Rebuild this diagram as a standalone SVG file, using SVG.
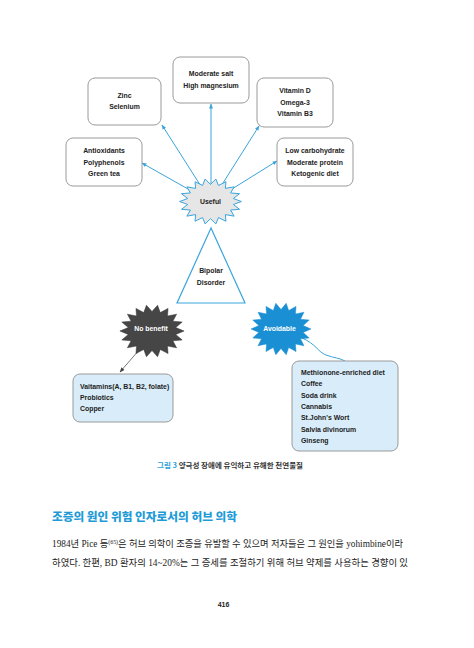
<svg xmlns="http://www.w3.org/2000/svg" width="474" height="648" viewBox="0 0 474 648">
<style>
.box{fill:#fff;stroke:#9a9a9a;stroke-width:1}
.lbox{fill:#d8edf9;stroke:#9a9a9a;stroke-width:1}
.t{font-family:"Liberation Sans",Arial,sans-serif;font-weight:bold;font-size:6.9px;fill:#222;text-anchor:middle}
.tl{font-family:"Liberation Sans",Arial,sans-serif;font-weight:bold;font-size:6.9px;fill:#222}
.con{stroke:#3aa5dc;stroke-width:1;fill:none}
.kr{font-family:"Noto Sans CJK KR",sans-serif}
</style>
<defs>
<marker id="ab" viewBox="0 0 10 10" refX="9" refY="5" markerWidth="5" markerHeight="5" orient="auto" markerUnits="userSpaceOnUse">
<path d="M0,1 L10,5 L0,9 z" fill="#3aa5dc"/>
</marker>
<marker id="ad" viewBox="0 0 10 10" refX="9" refY="5" markerWidth="5" markerHeight="5" orient="auto" markerUnits="userSpaceOnUse">
<path d="M0,1 L10,5 L0,9 z" fill="#444"/>
</marker>
<polygon id="star" vector-effect="non-scaling-stroke" points="30,0 22.16,3.91 28.19,10.26 19.49,11.25 22.98,19.28 14.46,17.24 15,25.98 7.7,21.14 5.21,29.54 0,22.5 -5.21,29.54 -7.7,21.14 -15,25.98 -14.46,17.24 -22.98,19.28 -19.49,11.25 -28.19,10.26 -22.16,3.91 -30,0 -22.16,-3.91 -28.19,-10.26 -19.49,-11.25 -22.98,-19.28 -14.46,-17.24 -15,-25.98 -7.7,-21.14 -5.21,-29.54 0,-22.5 5.21,-29.54 7.7,-21.14 15,-25.98 14.46,-17.24 22.98,-19.28 19.49,-11.25 28.19,-10.26 22.16,-3.91"/>
</defs>
<rect width="474" height="648" fill="#fff"/>

<g id="connectors">
<line class="con" x1="211" y1="202" x2="162" y2="125" marker-end="url(#ab)"/>
<line class="con" x1="211" y1="202" x2="211" y2="104" marker-end="url(#ab)"/>
<line class="con" x1="211" y1="202" x2="259" y2="126" marker-end="url(#ab)"/>
<line class="con" x1="211" y1="202" x2="142" y2="163" marker-end="url(#ab)"/>
<line class="con" x1="211" y1="202" x2="277" y2="161" marker-end="url(#ab)"/>
<line x1="140" y1="349" x2="120" y2="372" stroke="#555" stroke-width="0.8" marker-end="url(#ad)"/>
<path class="con" d="M302,338 C316,344 318,352 326,355 C334,358 340,358 345,361"/>
</g>

<g id="zinc">
<rect class="box" x="88" y="78" width="73" height="47" rx="7"/>
<text class="t" x="124.5" y="98">Zinc</text>
<text class="t" x="124.5" y="109">Selenium</text>
</g>
<g id="salt">
<rect class="box" x="173" y="57" width="76" height="46" rx="7"/>
<text class="t" x="211" y="76">Moderate salt</text>
<text class="t" x="211" y="88">High magnesium</text>
</g>
<g id="vitamin">
<rect class="box" x="257" y="78" width="76" height="49" rx="7"/>
<text class="t" x="295" y="93">Vitamin D</text>
<text class="t" x="295" y="104.5">Omega-3</text>
<text class="t" x="295" y="116">Vitamin B3</text>
</g>
<g id="antiox">
<rect class="box" x="66" y="138" width="76" height="48" rx="7"/>
<text class="t" x="104" y="153">Antioxidants</text>
<text class="t" x="104" y="164.5">Polyphenols</text>
<text class="t" x="104" y="176">Green tea</text>
</g>
<g id="lowcarb">
<rect class="box" x="277" y="138" width="76" height="48" rx="7"/>
<text class="t" x="315" y="153">Low carbohydrate</text>
<text class="t" x="315" y="164.5">Moderate protein</text>
<text class="t" x="315" y="176">Ketogenic diet</text>
</g>

<g id="useful">
<use href="#star" transform="translate(210.5,201.5) scale(1.03,0.76)" fill="#e6e6e6" stroke="#3aa5dc" stroke-width="1"/>
<text class="t" x="210.5" y="204">Useful</text>
</g>

<g id="bipolar">
<polygon points="211,228 177,303 245,303" fill="#fff" stroke="#3aa5dc" stroke-width="1.2"/>
<text class="t" x="211" y="273">Bipolar</text>
<text class="t" x="211" y="285">Disorder</text>
</g>

<g id="nobenefit">
<use href="#star" transform="translate(152,331) scale(1.07,0.87)" fill="#464646" stroke="#333" stroke-width="0.5"/>
<text class="t" x="151" y="331" style="fill:#fff">No benefit</text>
</g>

<g id="avoidable">
<use href="#star" transform="translate(281,329) scale(1.0,0.87)" fill="#1a8fd4" stroke="#1a8fd4" stroke-width="0.5"/>
<text class="t" x="279.5" y="330.5" style="fill:#fff">Avoidable</text>
</g>

<g id="nobenefit-list">
<rect class="lbox" x="73" y="374" width="100" height="48" rx="7"/>
<text class="tl" x="80" y="389">Vaitamins(A, B1, B2, folate)</text>
<text class="tl" x="80" y="400">Probiotics</text>
<text class="tl" x="80" y="411">Copper</text>
</g>

<g id="avoidable-list">
<rect class="lbox" x="292" y="361" width="106" height="90" rx="7"/>
<text class="tl" x="301" y="375">Methionone-enriched diet</text>
<text class="tl" x="301" y="386.3">Coffee</text>
<text class="tl" x="301" y="397.6">Soda drink</text>
<text class="tl" x="301" y="408.9">Cannabis</text>
<text class="tl" x="301" y="420.2">St.John's Wort</text>
<text class="tl" x="301" y="431.5">Salvia divinorum</text>
<text class="tl" x="301" y="442.8">Ginseng</text>
</g>

<text class="kr" x="157" y="468" font-size="7" font-weight="bold" fill="#333" textLength="146" lengthAdjust="spacingAndGlyphs"><tspan fill="#29a3dd">그림 3</tspan> 양극성 장애에 유익하고 유해한 천연물질</text>

<text class="kr" x="52" y="521" font-size="11" font-weight="900" fill="#1e9bd7" textLength="185" lengthAdjust="spacingAndGlyphs">조증의 원인 위험 인자로서의 허브 의학</text>

<text x="52" y="547" font-family="'Liberation Serif','Noto Sans CJK KR',serif" font-size="9.5" fill="#222" textLength="351" lengthAdjust="spacingAndGlyphs">1984년 Pice 등<tspan font-size="6" dy="-3">(65)</tspan><tspan dy="3">은 허브 의학이 조증을 유발할 수 있으며 저자들은 그 원인을 yohimbine이라</tspan></text>
<text x="52" y="566" font-family="'Liberation Serif','Noto Sans CJK KR',serif" font-size="9.5" fill="#222" textLength="356" lengthAdjust="spacingAndGlyphs">하였다. 한편, BD 환자의 14~20%는 그 증세를 조절하기 위해 허브 약제를 사용하는 경향이 있</text>

<text x="223.5" y="607" font-family="'Liberation Sans',Arial,sans-serif" font-size="7" font-weight="bold" fill="#222" text-anchor="middle">416</text>
</svg>
